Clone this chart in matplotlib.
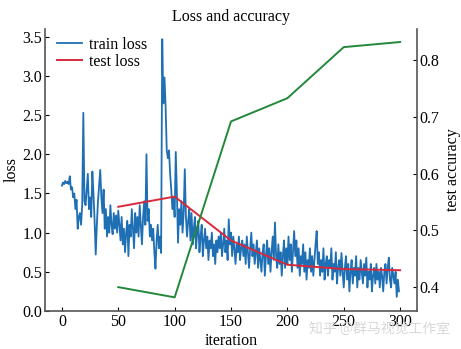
import matplotlib
matplotlib.use("Agg")
import matplotlib.pyplot as plt
import numpy as np

plt.rcParams['font.family'] = ['Liberation Serif', 'DejaVu Serif']
plt.rcParams['font.size'] = 10.5

# train loss, one value per iteration
train_loss = [
    1.60, 1.64, 1.62, 1.66, 1.63, 1.65, 1.62, 1.72, 1.55, 1.58, 1.45, 1.50, 1.30, 1.42, 1.05, 1.20, 1.25, 1.10, 1.35, 2.53,
    1.40, 1.35, 1.55, 1.75, 1.30, 1.45, 1.20, 1.78, 1.50, 1.15, 0.72, 1.10, 1.40, 1.60, 1.80, 1.45, 1.25, 1.55, 1.05, 1.30,
    0.95, 1.20, 1.00, 1.35, 1.10, 0.98, 1.25, 1.05, 1.22, 1.00, 1.28, 1.10, 0.90, 1.20, 0.85, 1.05, 0.75, 1.00, 1.15, 0.70,
    1.10, 0.95, 1.30, 1.05, 0.80, 1.25, 1.00, 1.20, 0.95, 1.35, 1.10, 0.85, 1.20, 1.40, 1.10, 2.00, 1.15, 1.30, 0.95, 1.10,
    0.90, 1.05, 0.75, 0.54, 0.90, 1.10, 0.80, 0.95, 0.74, 3.47, 2.65, 2.98, 2.60, 2.05, 1.95, 2.05, 1.75, 1.55, 1.30, 1.45,
    1.20, 2.03, 1.50, 0.87, 1.30, 1.10, 1.40, 1.00, 1.25, 1.81, 1.20, 0.95, 1.15, 1.30, 0.90, 1.25, 0.85, 1.05, 1.20, 0.80,
    1.00, 1.15, 0.75, 0.95, 1.10, 0.70, 0.90, 1.05, 0.80, 0.95, 0.65, 0.90, 0.80, 1.00, 0.70, 0.85, 0.60, 0.90, 0.75, 0.95,
    0.80, 1.00, 0.70, 0.85, 1.05, 0.75, 0.90, 0.65, 1.17, 0.85, 1.00, 0.70, 0.95, 0.80, 0.60, 0.85, 0.75, 0.95, 0.65, 0.80,
    0.90, 0.70, 0.85, 0.60, 0.95, 0.75, 0.55, 0.80, 1.00, 0.70, 0.85, 0.60, 0.75, 0.90, 0.55, 0.80, 0.65, 0.50, 0.75, 0.85,
    0.45, 0.70, 0.90, 0.60, 0.80, 0.50, 0.75, 0.95, 0.65, 1.13, 0.70, 0.55, 0.85, 0.60, 0.75, 0.45, 0.70, 0.90, 0.55, 0.80,
    0.60, 0.95, 0.65, 0.85, 0.50, 0.75, 1.02, 0.70, 0.90, 0.55, 0.80, 0.45, 0.70, 0.60, 0.85, 0.50, 0.75, 0.40, 0.65, 0.55,
    0.80, 0.50, 0.70, 0.45, 0.65, 0.85, 1.02, 0.60, 0.75, 0.45, 0.65, 0.50, 0.80, 0.40, 0.60, 0.70, 0.45, 0.65, 0.55, 0.80,
    0.40, 0.60, 0.50, 0.75, 0.35, 0.55, 0.65, 0.45, 0.74, 0.50, 0.30, 0.55, 0.70, 0.40, 0.60, 0.25, 0.50, 0.65, 0.35, 0.55,
    0.45, 0.70, 0.30, 0.55, 0.40, 0.65, 0.50, 0.35, 0.60, 0.45, 0.68, 0.30, 0.50, 0.40, 0.60, 0.25, 0.45, 0.55, 0.35, 0.60,
    0.40, 0.50, 0.30, 0.55, 0.45, 0.25, 0.50, 0.60, 0.35, 0.55, 0.68, 0.40, 0.30, 0.55, 0.45, 0.35, 0.50, 0.18, 0.40, 0.25,
]
train_iter = np.arange(len(train_loss))

test_iter = [50, 100, 150, 200, 250, 300]
test_loss = [1.33, 1.46, 0.90, 0.59, 0.535, 0.52]
test_acc = [0.400, 0.382, 0.692, 0.733, 0.823, 0.832]

fig = plt.figure(figsize=(4.61, 3.49), dpi=100)
ax1 = fig.add_axes([0.0976, 0.109, 0.807, 0.808])
ax2 = ax1.twinx()

l1, = ax1.plot(train_iter, train_loss, color='#1f6fb4', lw=1.3, label='train loss')
l2, = ax1.plot(test_iter, test_loss, color='#d8283c', lw=1.4, label='test loss')
ax2.plot(test_iter, test_acc, color='#23883a', lw=1.4)

ax1.set_xlim(-15, 315)
ax1.set_ylim(0, 3.6)
ax2.set_ylim(0.358, 0.855)
ax1.set_xticks([0, 50, 100, 150, 200, 250, 300])
ax1.set_yticks([0.0, 0.5, 1.0, 1.5, 2.0, 2.5, 3.0, 3.5])
ax2.set_yticks([0.4, 0.5, 0.6, 0.7, 0.8])

for ax in (ax1, ax2):
    ax.spines['top'].set_visible(False)
    ax.tick_params(direction='in', length=3, width=0.8, labelsize=11.5, pad=2)
    for s in ax.spines.values():
        s.set_linewidth(1.2)
        s.set_color('#555555')
ax1.spines['right'].set_visible(False)
ax2.spines['left'].set_visible(False)
ax2.spines['bottom'].set_visible(False)

ax1.set_xlabel('iteration', fontsize=11.5, labelpad=2)
ax1.set_ylabel('loss', fontsize=11.5, labelpad=2)
ax2.set_ylabel('test accuracy', fontsize=11.5, labelpad=4)
ax1.set_title('Loss and accuracy', fontsize=11.5, pad=6)

ax1.legend(handles=[l1, l2], loc='upper left', frameon=False, fontsize=11.5,
           handlelength=1.6, handletextpad=0.4, labelspacing=0.05,
           borderaxespad=0.1, bbox_to_anchor=(0.01, 1.0))

# faint watermark in the lower right corner, as in the source image
fig.text(0.977, 0.035, '知乎 @群马视觉工作室', ha='right', va='bottom',
         fontsize=10, color='#d8d8d8', family=['Noto Sans CJK SC', 'DejaVu Sans'])

fig.savefig('out.png', dpi=100)
